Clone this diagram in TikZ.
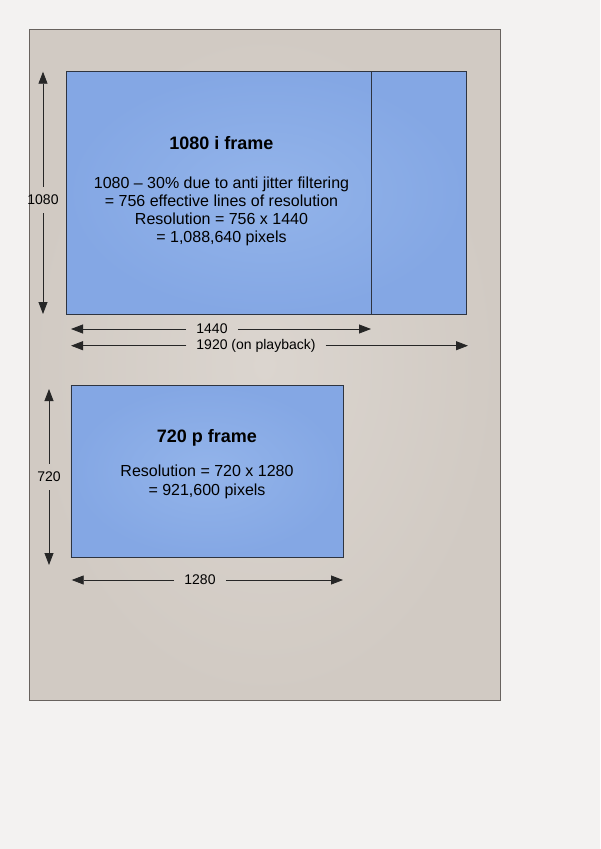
\documentclass[tikz,border=0pt]{standalone}
\usepackage{fontspec}
\setmainfont{Liberation Sans}
\usepackage{tikz}
\usetikzlibrary{positioning, arrows.meta}
\definecolor{pagebg}{HTML}{F3F2F1}
\definecolor{panelin}{HTML}{DBD5CF}
\definecolor{panelout}{HTML}{D1CAC3}
\definecolor{panelline}{HTML}{67625E}
\definecolor{bluein}{HTML}{93B4EA}
\definecolor{blueout}{HTML}{84A7E4}
\definecolor{frameline}{HTML}{2E3440}

\begin{document}
\begin{tikzpicture}[x=1pt, y=-1pt,
  panel/.style={draw=panelline, line width=1pt, inner color=panelin, outer color=panelout, inner sep=0pt},
  frame node/.style={draw=frameline, line width=0.8pt, inner color=bluein, outer color=blueout, inner sep=0pt},
  dim/.style={line width=0.8pt, draw=black!85, -{Triangle[length=12pt,width=9pt]}},
  dim label/.style={font=\fontsize{14}{16}\selectfont, inner xsep=10pt, inner ysep=8pt},
  title/.style={font=\fontsize{18}{20}\selectfont\bfseries, anchor=base},
  body/.style={align=center, inner sep=0pt, anchor=north}]

\fill[pagebg] (0,0) rectangle (600,849);
\useasboundingbox (0,0) rectangle (600,849);

\node[panel, minimum width=471pt, minimum height=671pt] (P) at (264.5,364.5) {};

\node[frame node, minimum width=400pt, minimum height=243pt] (F1080) at (266,192.5) {};
\coordinate (cut top) at (371,71);
\coordinate (cut bot) at (371,314);
\draw[frameline, line width=0.8pt] (cut top) -- (cut bot);

\node[title] (T1080) at (221.5,149) {1080 i frame};
\node[body, font=\fontsize{16}{17.9}\selectfont] (B1080) at (221.5,176.8)
  {1080 -- 30\% due to anti jitter filtering\\
   = 756 effective lines of resolution\\
   Resolution = 756 x 1440\\
   = 1,088,640 pixels};

\node[frame node, minimum width=272.7pt, minimum height=172pt] (F720) at (207.3,471.3) {};
\node[title] (T720) at (207,442.1) {720 p frame};
\node[body, font=\fontsize{16}{18.6}\selectfont] (B720) at (207,464.9)
  {Resolution = 720 x 1280\\
   = 921,600 pixels};

\node[dim label] (L1080) at (43,200) {1080};
\coordinate (L1080 top) at (43,71.7);
\coordinate (L1080 bot) at (43,314);
\node[dim label] (L1440) at (212,329) {1440};
\coordinate (L1440 left) at (71,329);
\coordinate (L1440 right) at (371,329);
\node[dim label] (L1920) at (256,345.7) {1920 (on playback)};
\coordinate (L1920 left) at (71,345.7);
\coordinate (L1920 right) at (468,345.7);
\node[dim label] (L720) at (49,477) {720};
\coordinate (L720 top) at (49,389);
\coordinate (L720 bot) at (49,565);
\node[dim label] (L1280) at (200,580) {1280};
\coordinate (L1280 left) at (71.7,580);
\coordinate (L1280 right) at (343,580);

\draw[dim] (L1080) -- (L1080 top);
\draw[dim] (L1080) -- (L1080 bot);
\draw[dim] (L1440) -- (L1440 left);
\draw[dim] (L1440) -- (L1440 right);
\draw[dim] (L1920) -- (L1920 left);
\draw[dim] (L1920) -- (L1920 right);
\draw[dim] (L720) -- (L720 top);
\draw[dim] (L720) -- (L720 bot);
\draw[dim] (L1280) -- (L1280 left);
\draw[dim] (L1280) -- (L1280 right);
\end{tikzpicture}
\end{document}
